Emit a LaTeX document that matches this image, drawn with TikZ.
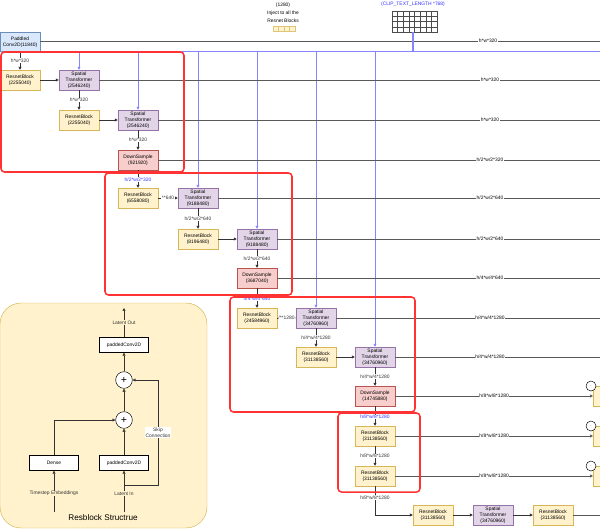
\documentclass[tikz,border=0pt]{standalone}
\usepackage{fontspec}
\setmainfont{Liberation Sans}
\usetikzlibrary{arrows.meta}
\definecolor{yf}{HTML}{FFF2CC}\definecolor{ys}{HTML}{D6B656}
\definecolor{pf}{HTML}{E1D5E7}\definecolor{ps}{HTML}{9673A6}
\definecolor{rf}{HTML}{F8CECC}\definecolor{rs}{HTML}{B85450}
\definecolor{bf}{HTML}{DAE8FC}\definecolor{bs}{HTML}{6C8EBF}
\definecolor{frame}{HTML}{FF3333}\definecolor{bl}{HTML}{3333FF}
\begin{document}
\begin{tikzpicture}[x=0.03cm,y=-0.03cm,
 every node/.style={font=\fontsize{4.2}{5}\selectfont,align=center,inner sep=0.5pt},
 box/.style={draw,minimum width=1.2cm,minimum height=0.6cm,line width=0.4pt},
 rb/.style={box,fill=yf,draw=ys},
 st/.style={box,fill=pf,draw=ps},
 ds/.style={box,fill=rf,draw=rs},
 wb/.style={draw,fill=white,minimum width=1.47cm,minimum height=0.45cm},
 ln/.style={draw=black!65,line width=0.5pt},
 ar/.style={-{Triangle[length=2.5pt,width=2.5pt]},black!80,line width=0.4pt},
 bar/.style={draw=bl!60,line width=0.6pt},
 fr/.style={draw=frame,line width=1.3pt,rounded corners=3pt},
 lb/.style={fill=white},
 blab/.style={fill=white,text=bl}]
\useasboundingbox (0,0) rectangle (600,530);
% top texts
\node at (283,5) {(1280)};
\node at (283,13) {Inject to all the};
\node at (283,21) {Resnet Blocks};
\draw[fill=yf,draw=ys!80,line width=0.3pt] (273,26) rectangle (295,31);
\foreach \i in {1,2,3}{\draw[ys!80,line width=0.3pt] (273+5.5*\i,26) -- (273+5.5*\i,31);}
\node[text=bl] at (413,4) {(CLIP\_TEXT\_LENGTH *768)};
\foreach \i in {1,...,7}{\draw[black!70,line width=0.3pt] (392+5.625*\i,11) -- (392+5.625*\i,32);}
\foreach \i in {1,2,3}{\draw[black!70,line width=0.3pt] (392,11+5.25*\i) -- (437,11+5.25*\i);}
\draw[black!70,line width=0.4pt] (392,11) rectangle (437,32);
\coordinate (grid) at (413,32);
% paddled conv
\node[box,fill=bf,draw=bs,minimum width=1.2cm,minimum height=0.57cm] (pc) at (20,42) {Paddled\\Conv2D(11840)};
\coordinate (e0) at (600,41);
\draw[ln] (pc.east|-e0) -- node[pos=0.8,lb]{h*w*320} (e0);
% blue bus
\coordinate (bb0) at (79,51); \coordinate (bb1) at (600,51);
\draw[bar] (bb0) -- (bb1);
\draw[bar,line width=1.2pt] (grid) -- (413,51);
% block 1
\node[rb] (r1) at (20,80) {ResnetBlock\\(2255040)};
\node[st] (s1) at (79,80) {Spatial\\Transformer\\(2546240)};
\node[rb] (r2) at (79,120) {ResnetBlock\\(2255040)};
\node[st] (s2) at (138,120) {Spatial\\Transformer\\(2546240)};
\node[ds] (d1) at (138,160) {DownSample\\(921920)};
\draw[ar] (pc) -- node[lb]{h*w*320} (r1);
\draw[ar] (r1) -- (s1);
\draw[ar] (s1) -- node[lb]{h*w*320} (r2);
\draw[ar] (r2) -- (s2);
\draw[ar] (s2) -- node[lb]{h*w*320} (d1);
% block 2
\node[rb] (r3) at (138,198) {ResnetBlock\\(6558080)};
\node[st] (s3) at (198,198) {Spatial\\Transformer\\(9188480)};
\node[rb] (r4) at (198,239) {ResnetBlock\\(8196480)};
\node[st] (s4) at (257,239) {Spatial\\Transformer\\(9188480)};
\node[ds] (d2) at (257,278) {DownSample\\(3687040)};
\draw[ar] (d1) -- node[blab,pos=0.55]{h/2*w/2*320} (r3);
\draw[ar] (r3) -- node[lb]{**640} (s3);
\draw[ar] (s3) -- node[lb]{h/2*w/2*640} (r4);
\draw[ar] (r4) -- (s4);
\draw[ar] (s4) -- node[lb]{h/2*w/2*640} (d2);
% block 3
\node[rb] (r5) at (257,318) {ResnetBlock\\(24584960)};
\node[st] (s5) at (316,318) {Spatial\\Transformer\\(34760960)};
\node[rb] (r6) at (316,357) {ResnetBlock\\(31138560)};
\node[st] (s6) at (375,357) {Spatial\\Transformer\\(34760960)};
\node[ds] (d3) at (375,396) {DownSample\\(14745880)};
\draw[ar] (d2) -- node[blab,pos=0.55]{h/4*w/4*640} (r5);
\draw[ar] (r5) -- node[lb]{/**1280} (s5);
\draw[ar] (s5) -- node[lb]{h/4*w/4*1280} (r6);
\draw[ar] (r6) -- (s6);
\draw[ar] (s6) -- node[lb]{h/4*w/4*1280} (d3);
% block 4
\node[rb] (r7) at (375,436) {ResnetBlock\\(31138560)};
\node[rb] (r8) at (375,476) {ResnetBlock\\(31138560)};
\draw[ar] (d3) -- node[blab,pos=0.55]{h/8*w/8*1280} (r7);
\draw[ar] (r7) -- node[lb]{h/8*w/8*1280} (r8);
% bottom row
\node[rb] (m1) at (433,515) {ResnetBlock\\(31138560)};
\node[st] (m2) at (493,515) {Spatial\\Transformer\\(34760960)};
\node[rb] (m3) at (553,515) {ResnetBlock\\(31138560)};
\coordinate (mc) at (375,515);
\draw[ar] (r8) -- node[lb,pos=0.4]{h/8*w/8*1280} (mc) -- (m1);
\draw[ar] (m1) -- (m2);
\draw[ar] (m2) -- (m3);
\coordinate (me) at (600,515);
\draw[ln] (m3) -- (me);
% blue verticals
\foreach \n in {s1,s2,s3,s4,s5,s6}{\draw[bar,-{Triangle[length=2.5pt,width=2.5pt]}] (\n.north|-bb0) -- (\n.north);}
% horizontal outputs
\foreach \n/\y/\t in {s1/80/{h*w*320},s2/120/{h*w*320},d1/160/{h/2*w/2*320},s3/198/{h/2*w/2*640},s4/239/{h/2*w/2*640},d2/278/{h/4*w/4*640},s5/318/{h/4*w/4*1280},s6/357/{h/4*w/4*1280}}{
 \coordinate (E\n) at (600,\y);
 \draw[ln] (\n.east) -- (E\n);
 \node[lb] at (490,\y) {\t};}
% right partial targets
\foreach \n/\y in {d3/396,r7/436,r8/476}{
 \node[rb,anchor=west] (P\n) at (593,\y) {};
 \draw[ln,-{Triangle[length=2.5pt,width=2.5pt]}] (\n.east) -- node[lb,pos=0.5]{h/8*w/8*1280} (P\n.west);
 \node[draw,circle,minimum size=0.3cm,inner sep=0pt,fill=white] at (591,\y-10) {\textcolor{magenta}{$\cdot$}};}
% red frames
\draw[fr] (1,52) rectangle (184,172);
\draw[fr] (105,173) rectangle (292,295);
\draw[fr] (230,297) rectangle (415,412);
\draw[fr] (338,413) rectangle (420,492);
% resblock structure
\draw[fill=yf,draw=ys,rounded corners=18pt] (0,303) rectangle (207,528);
\node[font=\fontsize{7}{8}\selectfont] at (103,518) {Resblock Structrue};
\node[wb] (pc2) at (124,345) {paddedConv2D};
\node[wb] (pc3) at (124,463) {paddedConv2D};
\node[wb] (dn) at (54,463) {Dense};
\node[draw,circle,fill=white,minimum size=0.5cm,inner sep=0pt,font=\small] (p1) at (124,380) {+};
\node[draw,circle,fill=white,minimum size=0.5cm,inner sep=0pt,font=\small] (p2) at (124,420) {+};
\coordinate (lo) at (124,308); \coordinate (ti) at (54,512); \coordinate (li) at (124,512);
\coordinate (sk) at (124,485);
\draw[ar] (pc2) -- node[fill=yf]{Latent Out} (lo);
\draw[ar] (p1) -- (pc2);
\draw[ar] (p2) -- (p1);
\draw[ar] (pc3) -- (p2);
\draw[ar] (ti) -- node[fill=yf,pos=0.45]{Timestep Embeddings} (dn);
\draw[ar] (li) -- node[fill=yf,pos=0.45]{Latent In} (pc3);
\draw[ar] (dn) |- (p2);
\draw[ar] (sk) -| node[pos=0.75,fill=white]{Skip\\Connection} (158,380) -- (p1);
\end{tikzpicture}
\end{document}
